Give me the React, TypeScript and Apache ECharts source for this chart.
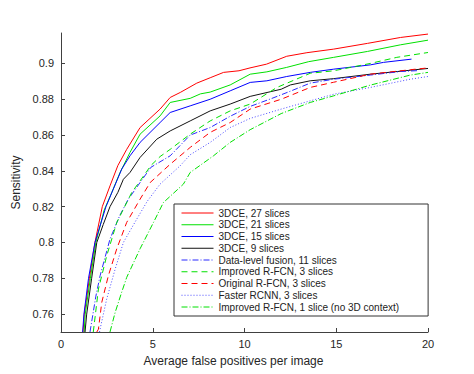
import React, { useEffect, useRef } from "react";
import * as echarts from "echarts";

const seriesNames = [
  "3DCE, 27 slices",
  "3DCE, 21 slices",
  "3DCE, 15 slices",
  "3DCE, 9 slices",
  "Data-level fusion, 11 slices",
  "Improved R-FCN, 3 slices",
  "Original R-FCN, 3 slices",
  "Faster RCNN, 3 slices",
  "Improved R-FCN, 1 slice (no 3D context)",
];

const xTicks = [0, 5, 10, 15, 20];
const yTicks = [0.76, 0.78, 0.8, 0.82, 0.84, 0.86, 0.88, 0.9];

const dce27 = [
  [1.2, 0.75], [1.27, 0.76], [1.55, 0.78], [1.85, 0.8], [2.25, 0.82], [2.67, 0.8316],
  [3.1, 0.843], [3.58, 0.852], [4.31, 0.8642], [5.4, 0.8745], [5.95, 0.881], [6.5, 0.8838],
  [7.4, 0.889], [8.13, 0.892], [8.86, 0.895], [9.7, 0.8959], [10.3, 0.8975], [11.2, 0.8996],
  [12.3, 0.904], [13.4, 0.906], [14.86, 0.908], [16.7, 0.9112], [18.5, 0.9145], [20, 0.9164],
];
const dce21 = [
  [1.26, 0.75], [1.32, 0.76], [1.6, 0.78], [1.9, 0.8], [2.35, 0.818], [2.77, 0.828],
  [3.22, 0.8391], [3.76, 0.8503], [4.31, 0.8605], [5.4, 0.8707], [5.95, 0.8782], [7.04, 0.8805],
  [7.6, 0.883], [8.13, 0.884], [9.22, 0.888], [10.31, 0.894], [11.22, 0.8953], [12.3, 0.8978],
  [13.5, 0.901], [14.86, 0.9034], [16.7, 0.9067], [18.5, 0.9104], [20, 0.913],
];
const dce15 = [
  [1.18, 0.75], [1.25, 0.76], [1.5, 0.78], [1.85, 0.8], [2.45, 0.82], [2.85, 0.8298],
  [3.31, 0.841], [3.76, 0.8484], [4.31, 0.8559], [5.4, 0.867], [5.95, 0.8726], [7.04, 0.8763],
  [8.13, 0.88], [9.22, 0.8847], [10.31, 0.8894], [11.22, 0.8903], [12.3, 0.8927], [13.58, 0.895],
  [14.86, 0.8968], [16.86, 0.8992], [17.58, 0.9006], [19.1, 0.9024],
];
const dce9 = [
  [1.31, 0.75], [1.4, 0.76], [1.67, 0.78], [1.95, 0.8], [2.3, 0.81], [2.67, 0.82],
  [3.1, 0.828], [3.4, 0.8353], [3.76, 0.8391], [4.31, 0.8475], [5.22, 0.8577], [5.95, 0.8623],
  [7.04, 0.8679], [8.13, 0.8735], [9.22, 0.8773], [10.31, 0.8816], [12.0, 0.8856], [12.5, 0.888],
  [13.58, 0.8903], [14.86, 0.8915], [16.86, 0.894], [19.04, 0.8962], [20, 0.8972],
];
const fusion11 = [
  [1.58, 0.75], [1.67, 0.7556], [1.9, 0.77], [2.13, 0.7814], [2.67, 0.8019], [3.2, 0.815],
  [3.67, 0.8242], [4.31, 0.8335], [4.9, 0.842], [5.95, 0.8484], [7.04, 0.86], [8.13, 0.8642],
  [9.22, 0.8705], [10.31, 0.876], [11.5, 0.8805], [12.5, 0.8845], [13.58, 0.889], [14.86, 0.8912],
  [16.86, 0.8935], [18.5, 0.8955], [19.5, 0.896],
];
const improved3 = [
  [1.76, 0.75], [2.04, 0.774], [2.49, 0.7925], [3.04, 0.8112], [3.86, 0.828], [4.31, 0.8344],
  [4.9, 0.843], [5.4, 0.848], [5.95, 0.852], [7.04, 0.8605], [8.13, 0.8679], [9.22, 0.8735],
  [10.31, 0.8773], [11.77, 0.8866], [13.58, 0.8945], [14.86, 0.8959], [16.86, 0.9],
  [18.3, 0.9034], [20, 0.9061],
];
const original3 = [
  [1.95, 0.75], [2.04, 0.7516], [2.22, 0.7665], [2.58, 0.7814], [3.04, 0.7965], [3.58, 0.8112],
  [4.31, 0.8242], [4.86, 0.8335], [5.95, 0.8437], [7.04, 0.8531], [8.13, 0.8615], [9.22, 0.867],
  [10.31, 0.8745], [12.0, 0.88], [13.58, 0.8866], [14.86, 0.8895], [16.86, 0.894],
  [19.04, 0.8965], [20, 0.8975],
];
const faster3 = [
  [2.1, 0.75], [2.13, 0.7516], [2.49, 0.7684], [2.95, 0.7851], [3.4, 0.8], [4.13, 0.8131],
  [4.7, 0.823], [5.4, 0.8326], [6.49, 0.8428], [7.04, 0.849], [8.13, 0.8559], [9.22, 0.8642],
  [10.31, 0.8693], [12.0, 0.8745], [13.58, 0.8791], [14.86, 0.8828], [16.86, 0.8866],
  [19.04, 0.8912], [20, 0.8927],
];
const improved1 = [
  [2.67, 0.75], [2.95, 0.7609], [3.3, 0.772], [3.58, 0.7805], [4.31, 0.7965], [5.04, 0.8112],
  [5.58, 0.8223], [6.67, 0.8326], [7.04, 0.8391], [8.31, 0.8484], [9.22, 0.8559], [10.31, 0.863],
  [12.0, 0.872], [13.58, 0.8782], [14.86, 0.8819], [16.86, 0.8879], [19.04, 0.8935], [20, 0.895],
];

const seriesData = [dce27, dce21, dce15, dce9, fusion11, improved3, original3, faster3, improved1];
const seriesColors = ["#ff0000", "#00e000", "#0000ff", "#111111", "#2a2aff", "#00e000", "#ff0000", "#4a4aff", "#00e000"];
const seriesDash: any[] = ["solid", "solid", "solid", "solid", [6, 2, 1, 2], [6, 4], [6, 4], [1, 2], [6, 2, 1, 2]];

export default function App() {
  const ref = useRef<HTMLDivElement>(null);
  useEffect(() => {
    if (!ref.current) return;
    const chart = echarts.init(ref.current, null, { renderer: "svg" });
    const font = "'Liberation Sans', Arial, Helvetica, sans-serif";
    chart.setOption({
      animation: false,
      backgroundColor: "#ffffff",
      textStyle: { fontFamily: font },
      grid: { left: 61, top: 33, right: 46, bottom: 42 },
      legend: {
        orient: "vertical",
        left: 174,
        top: 204,
        itemWidth: 32,
        itemHeight: 10,
        itemGap: 1.75,
        padding: [4, 29, 4, 7],
        borderColor: "#333",
        borderWidth: 1,
        borderRadius: 0,
        backgroundColor: "#fff",
        itemStyle: { opacity: 0 },
        lineStyle: { width: 1 },
        textStyle: { fontSize: 10, color: "#222", fontFamily: font },
        data: seriesNames,
      },
      xAxis: {
        type: "value",
        min: 0,
        max: 20,
        interval: 5,
        name: "Average false positives per image",
        nameLocation: "middle",
        nameGap: 23,
        nameTextStyle: { fontSize: 12, color: "#262626", padding: [0, 22, 0, 0] },
        axisLine: { lineStyle: { color: "#404040", width: 1 } },
        axisTick: { inside: true, length: 4, lineStyle: { color: "#404040" } },
        axisLabel: { fontSize: 11, color: "#262626", margin: 6, customValues: xTicks },
        splitLine: { show: false },
      },
      yAxis: {
        type: "value",
        min: 0.75,
        max: 0.917,
        name: "Sensitivity",
        nameLocation: "middle",
        nameGap: 33,
        nameTextStyle: { fontSize: 12, color: "#262626" },
        axisLine: { show: true, lineStyle: { color: "#404040", width: 1 } },
        axisTick: { show: true, inside: true, length: 4, lineStyle: { color: "#404040" }, customValues: yTicks },
        axisLabel: { fontSize: 11, color: "#262626", margin: 7, customValues: yTicks },
        splitLine: { show: false },
      },
      series: seriesNames.map((name, i) => ({
        name,
        type: "line",
        data: seriesData[i],
        symbol: "none",
        clip: true,
        lineStyle: { color: seriesColors[i], width: 1, type: seriesDash[i] },
        itemStyle: { color: seriesColors[i] },
      })),
    });
    return () => chart.dispose();
  }, []);
  return (
    <div
      ref={ref}
      style={{ position: "fixed", left: 0, top: 0, width: 474, height: 374, background: "#fff" }}
    />
  );
}
